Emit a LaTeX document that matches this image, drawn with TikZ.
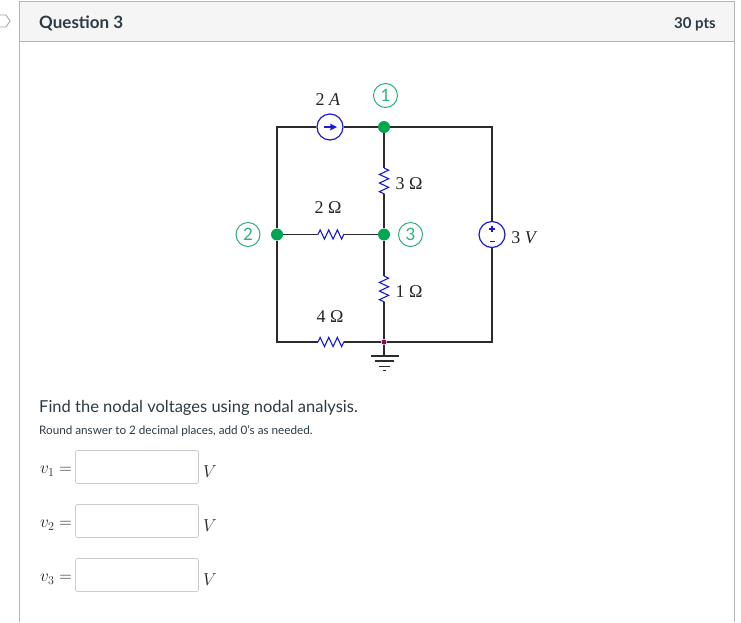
\documentclass[tikz,border=0pt]{standalone}
\usepackage{fontspec}
\setmainfont{Lato}
\newfontfamily\valfont{Liberation Serif}
\usetikzlibrary{decorations.pathmorphing}
\definecolor{inkc}{HTML}{2D3B45}
\definecolor{framec}{HTML}{B5B5B5}
\definecolor{headc}{HTML}{F5F5F5}
\definecolor{boxc}{HTML}{CCCCCC}
\definecolor{greenc}{HTML}{00A651}
\definecolor{greenl}{HTML}{2DB27A}
\definecolor{bluec}{HTML}{1A1AD6}
\definecolor{wirec}{HTML}{2B2B2B}
\tikzset{
  wire/.style={draw=wirec, line width=1.3pt},
  res/.style={draw=bluec, line width=1.1pt, decorate, decoration={zigzag, segment length=8.6pt, amplitude=4.6pt}},
  dotn/.style={circle, fill=greenc, inner sep=0pt, minimum size=12pt},
  srcn/.style={circle, draw=bluec, line width=1.2pt, fill=white, inner sep=0pt, minimum size=26pt},
  tag/.style={circle, draw=greenl, line width=1pt, text=greenl, inner sep=0pt, minimum size=24pt, font=\fontsize{17}{17}\selectfont},
  val/.style={text=black!85, font=\fontsize{18}{18}\selectfont\valfont, inner sep=0pt},
  ansbox/.style={draw=boxc, line width=.8pt, rounded corners=2pt, minimum width=123pt, minimum height=33pt, inner sep=0pt},
  ansl/.style={text=black!85, font=\fontsize{17}{17}\selectfont, inner sep=0pt},
}
\begin{document}
\begin{tikzpicture}[x=1pt, y=-1pt]
  \useasboundingbox (0,0) rectangle (741,622);
  % page frame
  \fill[white] (0,0) rectangle (741,622);
  \fill[headc] (19,1) rectangle (734,41);
  \draw[framec, line width=1pt] (19,622) -- (19,1) -- (734,1) -- (734,622);
  \draw[framec, line width=1pt] (19,41) -- (734,41);
  \draw[black!35, line width=.9pt] (0,15) -- (6,15) -- (10,21) -- (6,27) -- (0,27);
  \node[anchor=base west, text=inkc, inner sep=0pt, font=\fontsize{17}{17}\selectfont\bfseries] (title) at (39,28) {Question 3};
  \node[anchor=base east, text=inkc, inner sep=0pt, font=\fontsize{15}{15}\selectfont\bfseries] (pts) at (716,28) {30 pts};
  % junctions
  \node[dotn] (n1) at (384,127) {};
  \node[dotn] (n2) at (277,234.5) {};
  \node[dotn] (n3) at (384,234.5) {};
  \node[circle, fill=purple!80!blue, inner sep=0pt, minimum size=5pt] (gnd) at (384,342) {};
  \coordinate (tl) at (277,127);
  \coordinate (tr) at (492,127);
  \coordinate (bl) at (277,342);
  \coordinate (br) at (492,342);
  \coordinate (gtop) at (384,356);
  % sources
  \node[srcn] (isrc) at (330,127) {};
  \node[srcn] (vsrc) at (492,234.5) {};
  % resistor ends
  \coordinate (r3a) at (384,168);
  \coordinate (r3b) at (384,194);
  \coordinate (r2a) at (318,234.5);
  \coordinate (r2b) at (344,234.5);
  \coordinate (r1a) at (384,276);
  \coordinate (r1b) at (384,302);
  \coordinate (r4a) at (318,342);
  \coordinate (r4b) at (344,342);
  % wires
  \draw[wire] (n2) -- (tl) -- (isrc);
  \draw[wire] (isrc) -- (n1);
  \draw[wire] (n1) -- (tr) -- (vsrc);
  \draw[wire] (vsrc) -- (br) -- (gnd);
  \draw[wire] (n1) -- (r3a);
  \draw[wire] (r3b) -- (n3);
  \draw[wire] (n2) -- (r2a);
  \draw[wire] (r2b) -- (n3);
  \draw[wire] (n3) -- (r1a);
  \draw[wire] (r1b) -- (gnd);
  \draw[wire] (n2) -- (bl) -- (r4a);
  \draw[wire] (r4b) -- (gnd);
  \draw[wire] (gnd) -- (gtop);
  \draw[res] (r3a) -- (r3b);
  \draw[res] (r2a) -- (r2b);
  \draw[res] (r1a) -- (r1b);
  \draw[res] (r4a) -- (r4b);
  % ground
  \draw[wirec, line width=1.2pt] (371,356) -- (399,356);
  \draw[wirec, line width=1.1pt] (375,361) -- (394,361);
  \draw[wirec, line width=1pt] (379,366) -- (390,366);
  \draw[wirec, line width=1pt] (383,370) -- (386,370);
  % source marks
  \draw[bluec, line width=1.2pt] (324,127) -- (332,127);
  \fill[bluec] (337,127) -- (330,123.5) -- (331,127) -- (330,130.5) -- cycle;
  \draw[bluec, line width=1.1pt] (489,229) -- (495,229) (492,226) -- (492,232);
  \draw[bluec, line width=1.1pt] (489.5,241.5) -- (494.5,241.5);
  % labels
  \node[val] (lbla) at (328,100) {2 \textit{A}};
  \node[val] (lblv) at (524.5,237.5) {3 \textit{V}};
  \node[val] (lblr3) at (409,184) {3 Ω};
  \node[val] (lblr2) at (328,208) {2 Ω};
  \node[val] (lblr1) at (409,292) {1 Ω};
  \node[val] (lblr4) at (330,317) {4 Ω};
  \node[tag] (t1) at (385.5,95.5) {1};
  \node[tag] (t2) at (248,234.5) {2};
  \node[tag] (t3) at (410.5,234.5) {3};
  % question
  \node[anchor=base west, text=inkc, inner sep=0pt, font=\fontsize{16.5}{16.5}\selectfont] (ask) at (39,412) {Find the nodal voltages using nodal analysis.};
  \node[anchor=base west, text=inkc, inner sep=0pt, font=\fontsize{11.7}{11.7}\selectfont] (note) at (39,434) {Round answer to 2 decimal places, add 0's as needed.};
  % answers
  \foreach \i/\yy in {1/467, 2/521, 3/575}{
    \node[ansbox] (box\i) at (137,\yy) {};
    \node[ansl, anchor=east] (lhs\i) at (72,\yy+4.5) {$v_\i=$};
    \node[ansl, anchor=west] (unit\i) at (203,\yy+4.5) {$V$};
  }
\end{tikzpicture}
\end{document}
